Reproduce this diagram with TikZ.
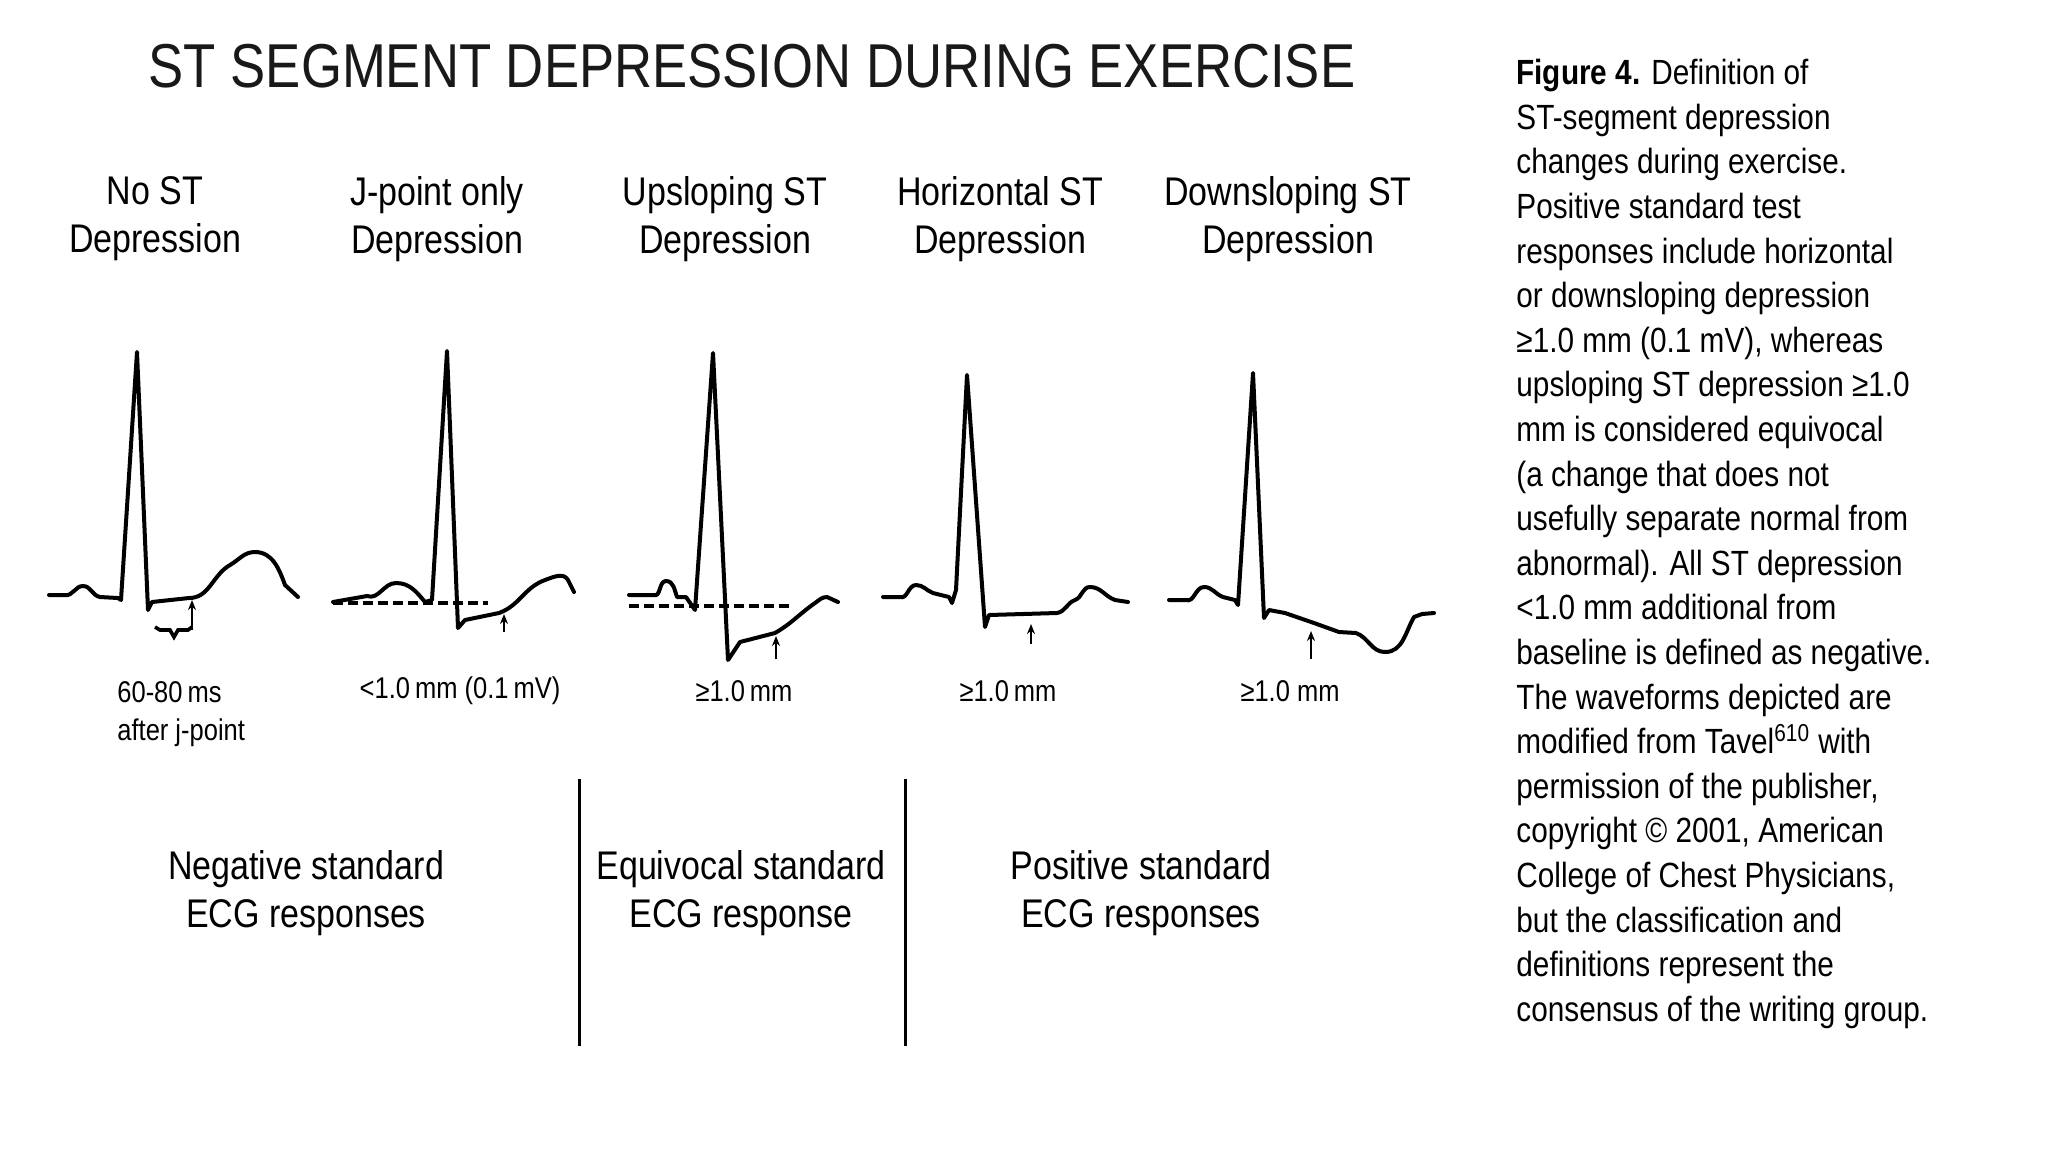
\documentclass[tikz,border=0pt]{standalone}
\usepackage{fontspec}
\setmainfont{Liberation Sans}[FakeStretch=0.85]
\usetikzlibrary{arrows.meta}
\begin{document}
\begin{tikzpicture}[x=0.5pt,y=-0.5pt,
  wave/.style={line width=2pt,line join=round,line cap=round},
  base/.style={line width=2pt,dash pattern=on 5pt off 2.5pt},
  marker/.style={line width=1.3pt,-{Stealth[length=5pt,width=4pt]}},
  hdr/.style={font=\fontsize{20}{24}\selectfont,align=center,inner sep=0pt},
  sub/.style={font=\fontsize{15}{19}\selectfont,align=left,inner sep=0pt},
  cls/.style={font=\fontsize{20}{24}\selectfont,align=center,inner sep=0pt}]
\useasboundingbox[fill=white] (0,0) rectangle (2048,1152);
\node[inner sep=0pt,font=\fontsize{31}{36}\selectfont,text=black!90] (title) at (752,66) {ST SEGMENT DEPRESSION DURING EXERCISE};
\node[hdr] (h1) at (155,219) {No ST\\Depression};
\node[hdr] (h2) at (437,219) {J-point only\\Depression};
\node[hdr] (h3) at (725,219) {Upsloping ST\\Depression};
\node[hdr] (h4) at (1000,219) {Horizontal ST\\Depression};
\node[hdr] (h5) at (1288,219) {Downsloping ST\\Depression};
% waveform 1
\draw[wave] (49,595) -- (65,595) to[out=-10,in=180] (83,586) to[out=0,in=170] (100,597) -- (118,598) -- (121,600) -- (137,352) -- (148,610) -- (152,602) -- (189,598) to[out=0,in=210] (230,565) to[out=30,in=180] (255,552) to[out=0,in=110] (285,585) -- (298,597);
\coordinate (a1) at (192,613);
\coordinate (a1t) at (192,600);
\draw[marker] (a1) -- (a1t);
\draw[line width=1.3pt] (192,613) -- (192,630);
\draw[line width=1.8pt] (155,627) -- (160,630) -- (170,630) -- (174,637) -- (178,630) -- (188,630) -- (192,627);
\node[sub,anchor=north west] (s1) at (117,681) {60-80\,ms\\after j-point};
% waveform 2
\draw[base] (333,603) -- (488,603);
\draw[wave] (333,602) -- (367,596) to[out=-20,in=180] (396,583) to[out=0,in=130] (425,602) -- (432,600) -- (447,351) -- (458,628) -- (465,620) -- (499,613) to[out=20,in=200] (545,580) to[out=20,in=120] (568,580) -- (574,592);
\coordinate (a2) at (504,632);
\coordinate (a2t) at (504,614);
\draw[marker] (a2) -- (a2t);
\node[sub] (s2) at (460,691) {<1.0\,mm (0.1\,mV)};
% waveform 3
\draw[base] (629,606) -- (792,606);
\draw[wave] (629,595) -- (654,595) to[out=-20,in=180] (666,581) to[out=0,in=110] (677,597) -- (686,597) -- (695,610) -- (713,353) -- (728,660) -- (740,642) -- (775,633) to[out=30,in=215] (815,603) to[out=35,in=180] (827,597) -- (838,602);
\coordinate (a3) at (776,659);
\coordinate (a3t) at (776,636);
\draw[marker] (a3) -- (a3t);
\node[sub] (s3) at (744,691) {≥1.0\,mm};
% waveform 4
\draw[wave] (883,597) -- (900,597) to[out=-20,in=180] (916,585) to[out=0,in=160] (933,593) -- (949,597) -- (952,603) -- (956,590) -- (967,375) -- (985,627) -- (989,615) -- (1057,613) to[out=10,in=200] (1075,600) to[out=20,in=180] (1090,587) to[out=0,in=160] (1115,600) -- (1128,602);
\coordinate (a4) at (1031,644);
\coordinate (a4t) at (1031,624);
\draw[marker] (a4) -- (a4t);
\node[sub] (s4) at (1008,691) {≥1.0\,mm};
% waveform 5
\draw[wave] (1169,600) -- (1186,600) to[out=-20,in=180] (1204,587) to[out=0,in=160] (1223,597) -- (1235,600) -- (1238,605) -- (1253,373) -- (1264,618) -- (1269,610) -- (1285,613) -- (1314,623) -- (1339,632) -- (1356,633) to[out=-20,in=180] (1385,652) to[out=0,in=240] (1414,617) -- (1422,614) -- (1434,613);
\coordinate (a5) at (1311,659);
\coordinate (a5t) at (1311,631);
\draw[marker] (a5) -- (a5t);
\node[sub] (s5) at (1290,691) {≥1.0 mm};
% classification
\coordinate (v1t) at (579,779); \coordinate (v1b) at (579,1046);
\coordinate (v2t) at (905,779); \coordinate (v2b) at (905,1046);
\draw[line width=1.5pt] (v1t) -- (v1b);
\draw[line width=1.5pt] (v2t) -- (v2b);
\node[cls] (c1) at (306,893) {Negative standard\\ECG responses};
\node[cls] (c2) at (741,893) {Equivocal standard\\ECG response};
\node[cls] (c3) at (1141,893) {Positive standard\\ECG responses};
% caption
\node[anchor=north west,inner sep=0pt,align=left,font=\fontsize{17.5}{22.3}\selectfont] (cap) at (1516,59) {%
\textbf{Figure 4.} Definition of\\
ST-segment depression\\
changes during exercise.\\
Positive standard test\\
responses include horizontal\\
or downsloping depression\\
≥1.0 mm (0.1 mV), whereas\\
upsloping ST depression ≥1.0\\
mm is considered equivocal\\
(a change that does not\\
usefully separate normal from\\
abnormal). All ST depression\\
<1.0 mm additional from\\
baseline is defined as negative.\\
The waveforms depicted are\\
modified from Tavel\textsuperscript{610} with\\
permission of the publisher,\\
copyright © 2001, American\\
College of Chest Physicians,\\
but the classification and\\
definitions represent the\\
consensus of the writing group.};
\end{tikzpicture}
\end{document}
